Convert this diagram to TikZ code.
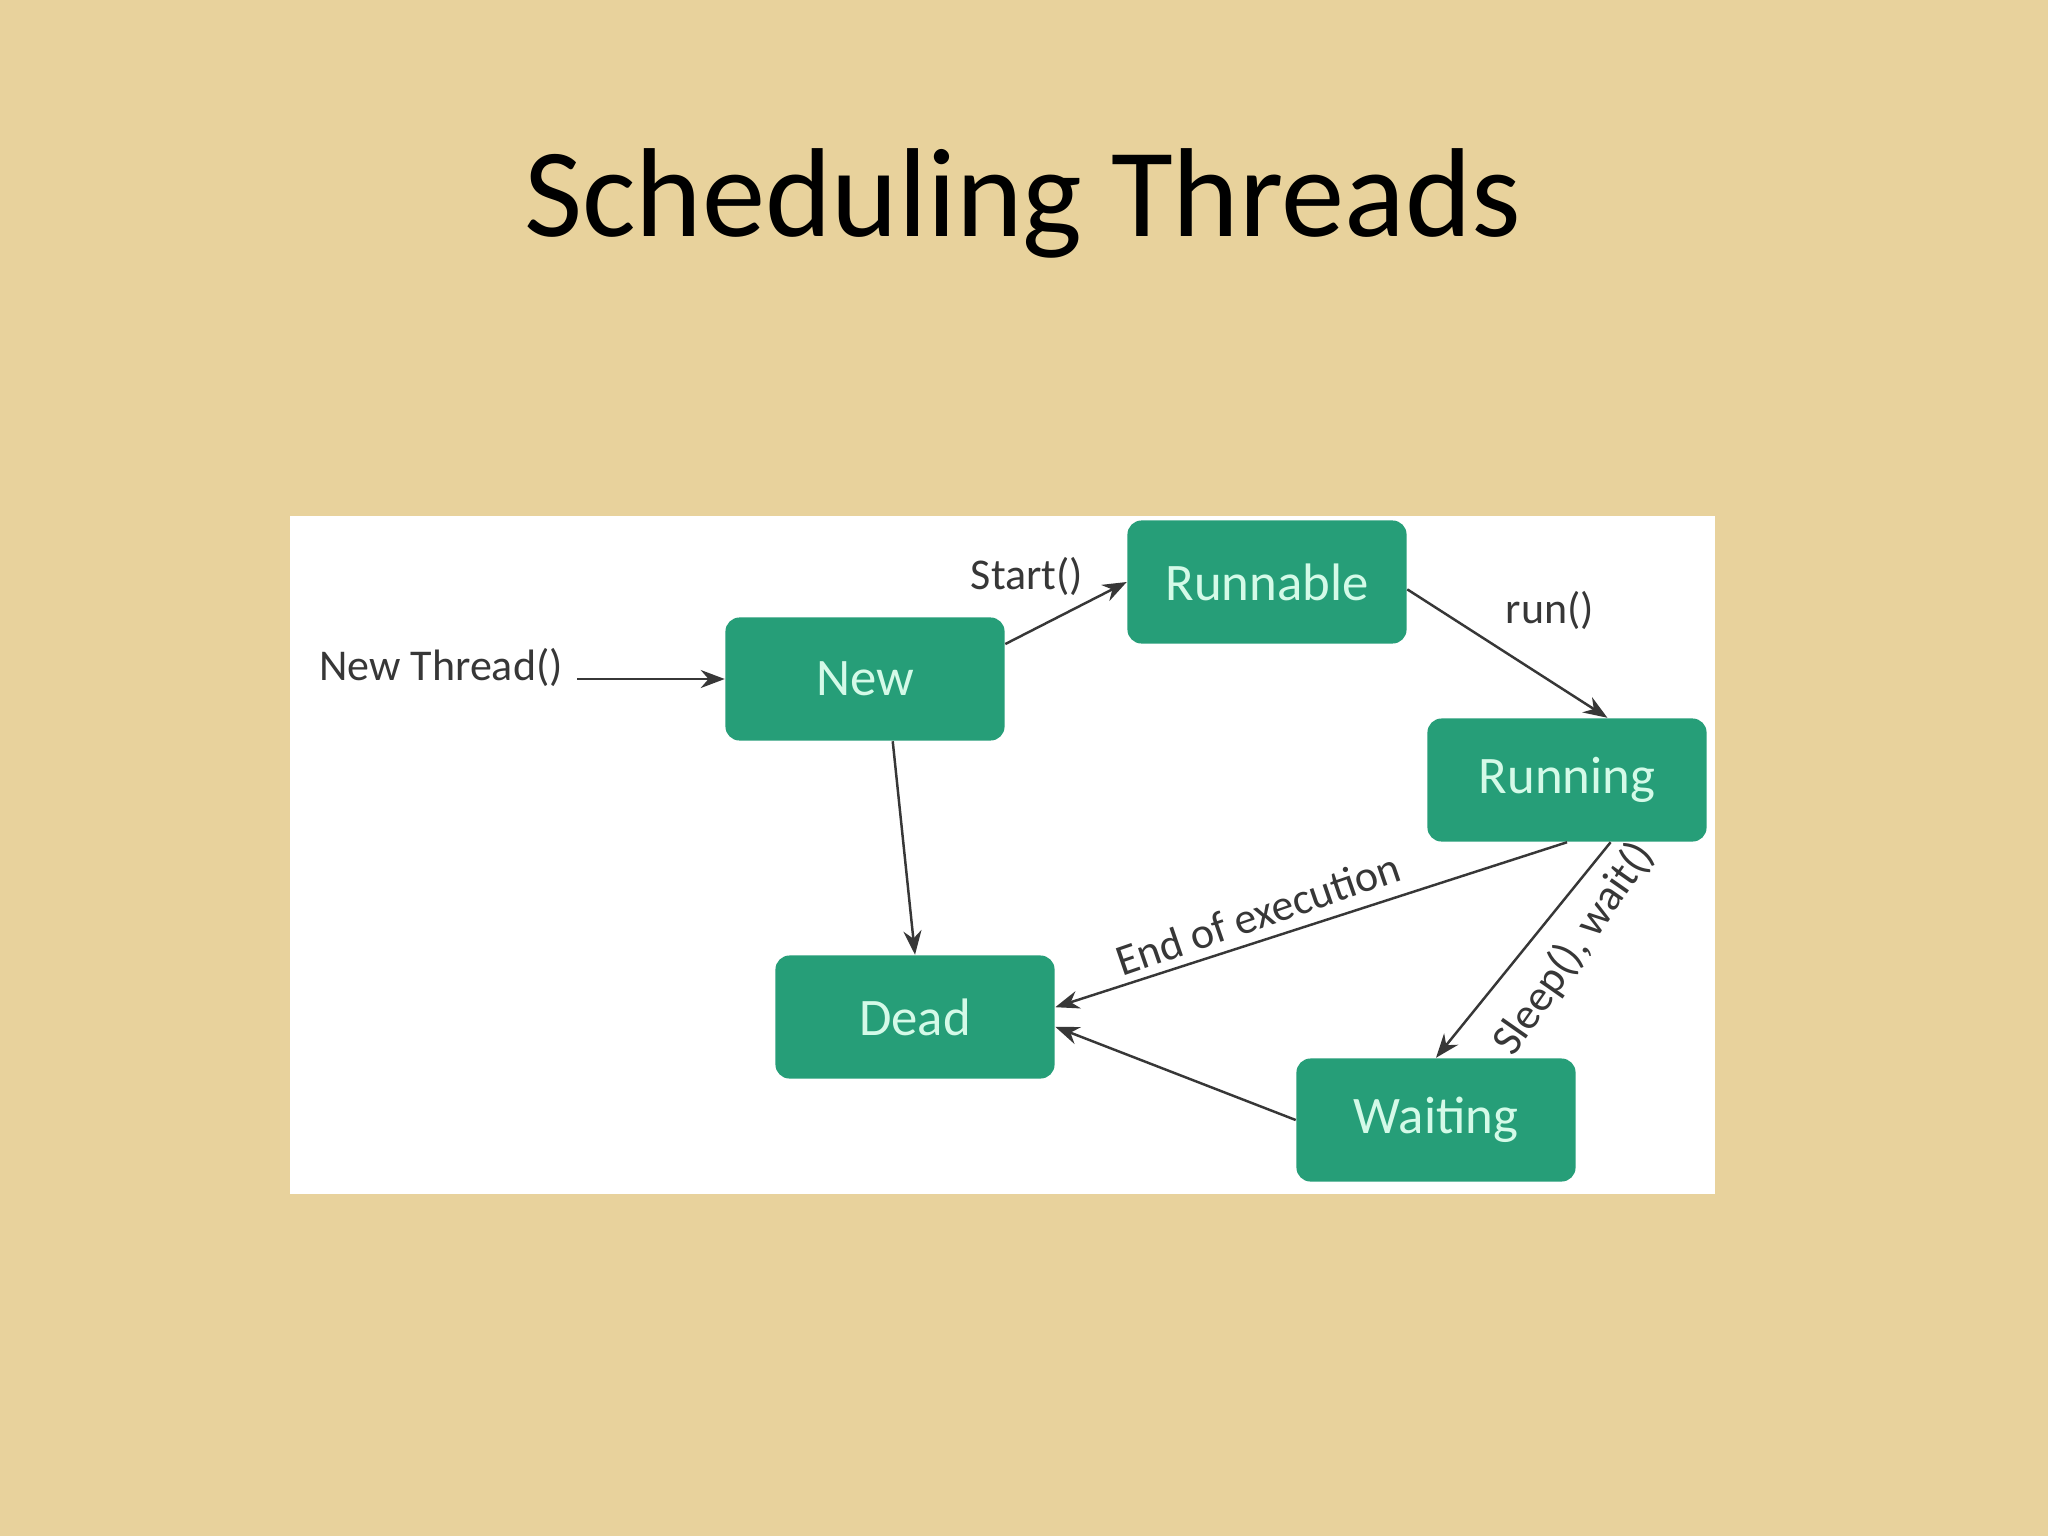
\documentclass[tikz,border=0pt]{standalone}
\usepackage{fontspec}
\setmainfont{Carlito}
\usetikzlibrary{positioning,arrows.meta}
\definecolor{paper}{RGB}{232,210,156}
\definecolor{boxgreen}{RGB}{38,158,120}
\definecolor{boxtext}{RGB}{212,250,232}
\definecolor{linegray}{RGB}{55,55,55}

\begin{document}
\begin{tikzpicture}[x=0.01cm, y=-0.01cm,
  state/.style={fill=boxgreen, rounded corners=4pt, minimum width=2.79cm,
    minimum height=1.23cm, text=boxtext, font=\fontsize{15}{18}\selectfont},
  lbl/.style={text=linegray, font=\fontsize{12.5}{15}\selectfont, inner sep=1pt},
  trans/.style={draw=linegray, line width=0.7pt, -{Stealth[length=2.4mm,width=1.8mm]}}]
  %----- slide -----
  \fill[paper] (0,0) rectangle (2048,1536);
  \useasboundingbox (0,0) rectangle (2048,1536);
  \fill[white] (290,516) rectangle (1715,1194);
  \node[anchor=base, font=\fontsize{36}{43}\selectfont] (title) at (1023,236) {Scheduling Threads};

  %----- states -----
  \node[state] (new)      at (865,679)  {New};
  \node[state] (runnable) at (1267,582) {Runnable};
  \node[state] (running)  at (1567,780) {Running};
  \node[state] (dead)     at (915,1017) {Dead};
  \node[state] (waiting)  at (1436,1120) {Waiting};

  %----- labels -----
  \node[lbl] (nt)       at (441,667)  {New Thread()};
  \node[lbl] (startlbl) at (1027,576) {Start()};
  \node[lbl] (runlbl)   at (1550,610) {run()};
  \node[lbl, rotate=19] (endlbl)   at (1258,914) {End of execution};
  \node[lbl, rotate=55] (sleeplbl) at (1574,949) {Sleep(), wait()};

  %----- transitions -----
  \draw[trans, shorten <=3pt] (nt.east |- new.west) -- (new.west);
  \draw[trans] (new.14) -- (runnable.west);
  \draw[trans] (runnable.-3) -- (running.57);
  \draw[trans] (new.-66) -- (dead.north);
  \draw[trans] (running.south) -- (dead.4);
  \draw[trans] (running.-55) -- (waiting.north);
  \draw[trans] (waiting.west) -- (dead.-4);
\end{tikzpicture}
\end{document}
